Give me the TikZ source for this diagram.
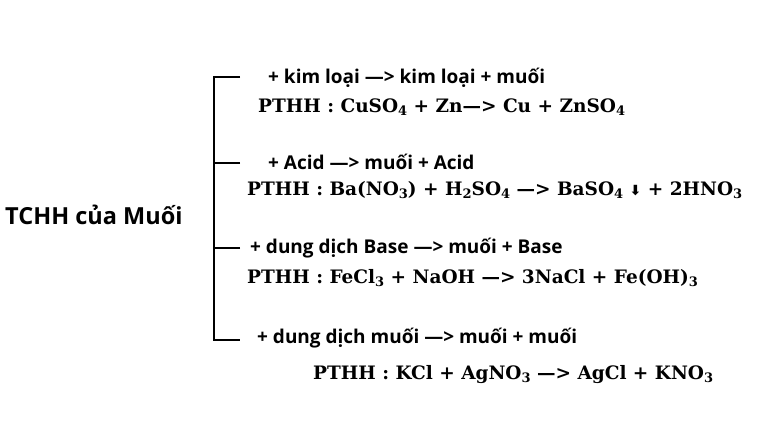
\documentclass[tikz,border=0pt]{standalone}
\usepackage{fontspec}
\setmainfont{Open Sans}
\newfontfamily\serifb{DejaVu Serif}
\newfontfamily\dvs{DejaVu Sans}
\newcommand{\subn}[1]{\raisebox{-0.3ex}{\fontsize{13}{13}\selectfont #1}}
\begin{document}
\begin{tikzpicture}[x=1pt,y=-1pt]
\tikzset{sans/.style={anchor=west,inner sep=0pt,font=\fontsize{19}{22}\selectfont\bfseries},
eq/.style={anchor=west,inner sep=0pt,font=\serifb\fontsize{18.5}{22}\selectfont\bfseries},
br/.style={line width=1.5pt}}
\useasboundingbox (0,0) rectangle (768,431);
\node[anchor=west,inner sep=0pt,font=\fontsize{23.5}{26}\selectfont\bfseries] (m) at (5,215) {TCHH của Muối};
\coordinate (t1) at (214,77); \coordinate (t4) at (214,340);
\coordinate (e1) at (240,77); \coordinate (e2) at (240,163);
\coordinate (e3) at (240,248); \coordinate (e4) at (240,340);
\draw[br] (e1) -- (t1) -- (t4) -- (e4);
\draw[br] (e2) -- (e2 -| t1);
\draw[br] (e3) -- (e3 -| t1);
\node[sans] (a1) at (268,78) {+ kim loại —> kim loại + muối};
\node[eq] (b1) at (258,107) {PTHH : CuSO\subn{4} + Zn—> Cu + ZnSO\subn{4}};
\node[sans] (a2) at (268,162) {+ Acid —> muối + Acid};
\node[eq] (b2) at (247,190) {PTHH : Ba(NO\subn{3}) + H\subn{2}SO\subn{4} —> BaSO\subn{4} {\dvs\fontsize{14}{14}\selectfont ⬇} + 2HNO\subn{3}};
\node[sans] (a3) at (250,248) {+ dung dịch Base —> muối + Base};
\node[eq] (b3) at (247,278) {PTHH : FeCl\subn{3} + NaOH —> 3NaCl + Fe(OH)\subn{3}};
\node[sans] (a4) at (257,338) {+ dung dịch muối —> muối + muối};
\node[eq] (b4) at (313,375) {PTHH : KCl + AgNO\subn{3} —> AgCl + KNO\subn{3}};
\end{tikzpicture}
\end{document}
